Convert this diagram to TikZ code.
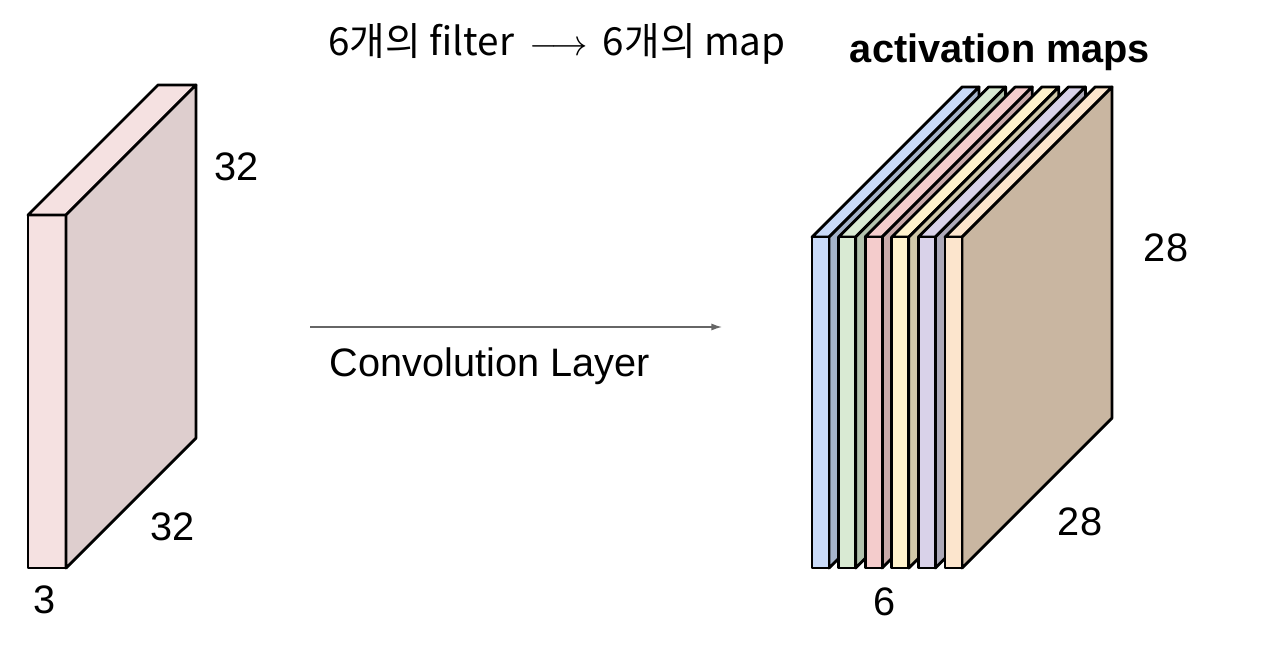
\documentclass[tikz,border=0pt]{standalone}
\usepackage{fontspec}
\setmainfont{Liberation Sans}
\newfontfamily\korfont{Noto Sans CJK KR}
\usetikzlibrary{arrows.meta}

\definecolor{inputfront}{HTML}{F5E1E1}
\definecolor{inputside}{HTML}{DECECE}
\definecolor{mapblue}{HTML}{C9DAF8}
\definecolor{mapblueside}{HTML}{A5B3CA}
\definecolor{mapgreen}{HTML}{D9EAD3}
\definecolor{mapgreenside}{HTML}{B2C2AD}
\definecolor{mappink}{HTML}{F4CCCC}
\definecolor{mappinkside}{HTML}{C9A9A9}
\definecolor{mapyellow}{HTML}{FFF2CC}
\definecolor{mapyellowside}{HTML}{D0C8A8}
\definecolor{maplilac}{HTML}{D9D2E9}
\definecolor{maplilacside}{HTML}{ACA8B8}
\definecolor{mappeach}{HTML}{FCE5CD}
\definecolor{mappeachside}{HTML}{C9B6A1}

\begin{document}
\begin{tikzpicture}
	[x=0.02cm,y=-0.02cm,
	 face/.style={draw=black,line width=1.6pt,line join=round},
	 dimlabel/.style={font=\fontsize{22.6}{26}\selectfont},
	 convarrow/.style={-{Latex[length=6pt,width=4pt]},gray!80!black,line width=0.8pt}]
	\useasboundingbox (0,0) rectangle (1270,650);

	% input volume 32x32x3
	\coordinate (inFTL) at (28,215);
	\coordinate (inFTR) at (66,215);
	\coordinate (inFBR) at (66,568);
	\coordinate (inBTL) at (158,85);
	\coordinate (inBTR) at (196,85);
	\coordinate (inBBR) at (196,438);
	\fill[inputfront] (inFTL) rectangle (inFBR);
	\draw[face,fill=inputfront] (inFTL) -- (inBTL) -- (inBTR) -- (inFTR) -- cycle;
	\draw[face,fill=inputside] (inFTR) -- (inBTR) -- (inBBR) -- (inFBR) -- cycle;
	\draw[face] (inFTL) rectangle (inFBR);

	\node[dimlabel] (inH) at (237,167) {32};
	\node[dimlabel] (inW) at (173,527) {32};
	\node[dimlabel] (inD) at (45,600) {3};

	% convolution arrow
	\coordinate (convL) at (310,327);
	\coordinate (convR) at (722,327);
	\draw[convarrow] (convL) -- (convR);
	\node[dimlabel] (convtext) at (490,366) {Convolution Layer};

	% activation maps, drawn left to right
	\foreach \i/\fc/\sc in {0/mapblue/mapblueside,1/mapgreen/mapgreenside,
		2/mappink/mappinkside,3/mapyellow/mapyellowside,
		4/maplilac/maplilacside,5/mappeach/mappeachside}
	{
		\pgfmathsetmacro{\xa}{812+26.6*\i}
		\pgfmathsetmacro{\xb}{\xa+17}
		\draw[face,fill=\fc] (\xa,237) -- (\xa+150,87) -- (\xb+150,87) -- (\xb,237) -- cycle;
		\draw[face,fill=\sc] (\xb,237) -- (\xb+150,87) -- (\xb+150,418) -- (\xb,568) -- cycle;
		\draw[face,fill=\fc] (\xa,237) rectangle (\xb,568);
	}

	\node[dimlabel] (mapH) at (1166,248) {28};
	\node[dimlabel] (mapW) at (1080,522) {28};
	\node[dimlabel] (mapD) at (885,602) {6};
	\node[dimlabel,font=\fontsize{22.6}{26}\selectfont\bfseries] (maptitle) at (1000,52) {activation maps};

	% handwritten note
	\node[font=\korfont\fontsize{22}{26}\selectfont] (note) at (557,44) {6개의 filter\, $\longrightarrow$\, 6개의 map};
\end{tikzpicture}
\end{document}
